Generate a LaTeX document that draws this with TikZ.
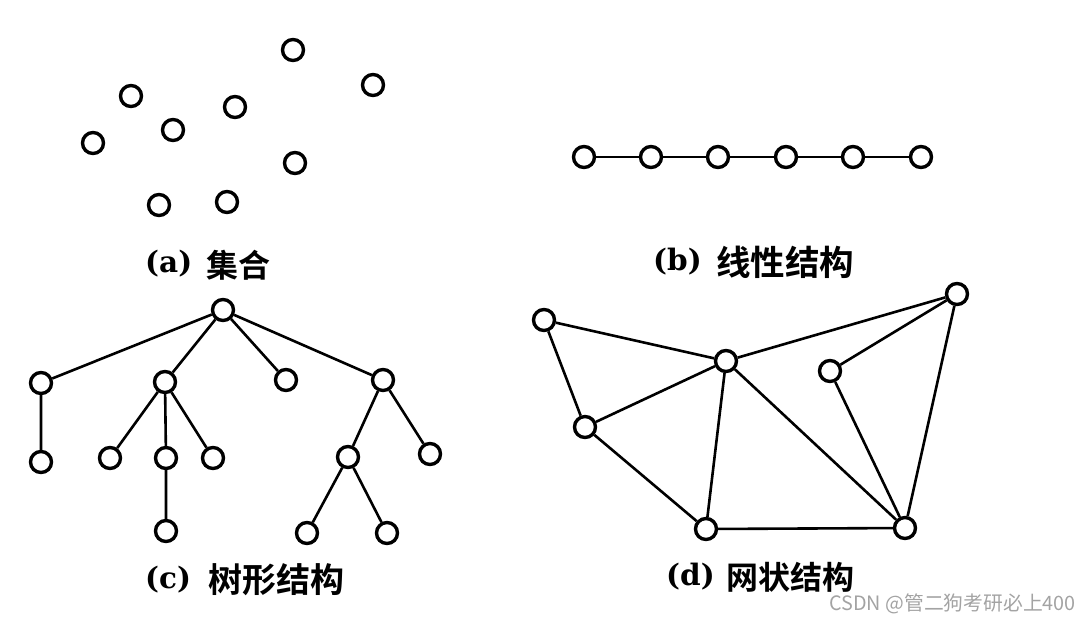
\documentclass[tikz,border=0pt]{standalone}
\usepackage{fontspec}
\newfontfamily\cjkfont{Noto Sans CJK SC}[BoldFont={* Bold}]
\newfontfamily\latfont{DejaVu Serif}
\begin{document}
\begin{tikzpicture}[x=1pt,y=-1pt,
  vtx/.style={circle,draw,line width=3.4pt,minimum size=21pt,inner sep=0pt,fill=white},
  edge/.style={line width=2.6pt},
  lattxt/.style={anchor=west,inner sep=0pt,font=\latfont\bfseries\fontsize{29.5}{29.5}\selectfont},
  cjktxt/.style={anchor=west,inner sep=0pt,font=\cjkfont\bfseries\fontsize{#1}{#1}\selectfont},
  wm/.style={anchor=west,inner sep=0pt,text=black!36,font=\cjkfont\fontsize{19.8}{19.8}\selectfont}]
\useasboundingbox (0,0) rectangle (1092,622);
% (a) set
\node[vtx] (a1) at (293,50) {};
\node[vtx] (a2) at (373,85) {};
\node[vtx] (a3) at (131,96) {};
\node[vtx] (a4) at (235,107) {};
\node[vtx] (a5) at (173,130) {};
\node[vtx] (a6) at (93,143) {};
\node[vtx] (a7) at (295,163) {};
\node[vtx] (a8) at (159,205) {};
\node[vtx] (a9) at (227,202) {};
\node[lattxt] (la) at (145,264) {(a)};
\node[cjktxt=32] (lat) at (206,265) {集合};
% (b) linear
\foreach \i/\x in {1/584,2/651,3/718,4/786,5/853,6/921}{\node[vtx] (b\i) at (\x,157) {};}
\draw[edge] (b1)--(b2) (b2)--(b3) (b3)--(b4) (b4)--(b5) (b5)--(b6);
\node[lattxt] (lb) at (653,262) {(b)};
\node[cjktxt=34.5] (lbt) at (716,262) {线性结构};
% (c) tree
\node[vtx] (r) at (223,310) {};
\node[vtx] (c1) at (41,383) {};
\node[vtx] (c2) at (165,382) {};
\node[vtx] (c3) at (286,380) {};
\node[vtx] (c4) at (383,380) {};
\node[vtx] (c11) at (41,462) {};
\node[vtx] (c21) at (110,458) {};
\node[vtx] (c22) at (166,458) {};
\node[vtx] (c23) at (213,458) {};
\node[vtx] (c221) at (166,531) {};
\node[vtx] (c41) at (348,457) {};
\node[vtx] (c42) at (430,454) {};
\node[vtx] (c411) at (307,533) {};
\node[vtx] (c412) at (387,533) {};
\draw[edge] (r)--(c1) (r)--(c2) (r)--(c3) (r)--(c4)
  (c1)--(c11) (c2)--(c21) (c2)--(c22) (c2)--(c23) (c22)--(c221)
  (c4)--(c41) (c4)--(c42) (c41)--(c411) (c41)--(c412);
\node[lattxt] (lc) at (145,580) {(c)};
\node[cjktxt=34] (lct) at (208,580) {树形结构};
% (d) graph
\node[vtx] (d1) at (544,320) {};
\node[vtx] (d2) at (957,294) {};
\node[vtx] (d3) at (726,361) {};
\node[vtx] (d4) at (830,371) {};
\node[vtx] (d5) at (585,427) {};
\node[vtx] (d6) at (706,529) {};
\node[vtx] (d7) at (905,528) {};
\draw[edge] (d1)--(d3) (d1)--(d5) (d3)--(d2) (d3)--(d5) (d3)--(d6) (d3)--(d7)
  (d2)--(d4) (d2)--(d7) (d4)--(d7) (d5)--(d6) (d6)--(d7);
\node[lattxt] (ld) at (666,577) {(d)};
\node[cjktxt=32] (ldt) at (726,577) {网状结构};
% watermark
\node[wm] (w) at (829,604) {CSDN @管二狗考研必上400};
\end{tikzpicture}
\end{document}
